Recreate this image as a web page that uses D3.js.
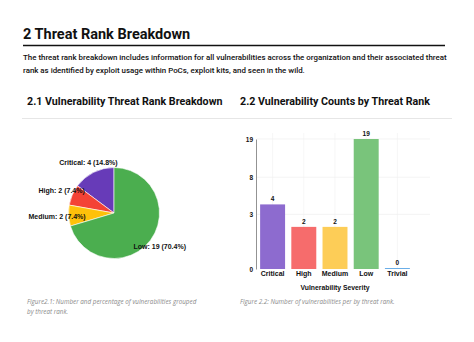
<!DOCTYPE html>
<html>
<head>
<meta charset="utf-8">
<script src="https://cdn.jsdelivr.net/npm/d3@7"></script>
<style>
  html, body { margin: 0; padding: 0; background: #fff; }
  svg { display: block; }
  .doc { font-family: Roboto, "Open Sans", sans-serif; fill: #111; }
  .chart { font-family: "Liberation Sans", Arial, sans-serif; font-weight: bold; fill: #111; }
  .caption { font-family: "Open Sans", sans-serif; font-style: italic; fill: #8a8a8a; }
</style>
</head>
<body>
<svg id="page" width="474" height="342"></svg>
<script>
// threat rank counts
const ranks = ["Critical", "High", "Medium", "Low", "Trivial"];
const counts = [4, 2, 2, 19, 0];
const pieRanks = ["Critical", "High", "Medium", "Low"];
const pieCounts = [4, 2, 2, 19];
const pieColors = ["#673bb8", "#f44236", "#fec10a", "#4bae4f"];
const barColors = ["#8d6bcf", "#f66c6c", "#fdcd57", "#79c47b", "#6aaee8"];
const yTicks = [0, 3, 8, 19];

const svg = d3.select("#page");

// header
svg.append("text").attr("class", "doc")
  .attr("x", 23).attr("y", 39)
  .attr("font-size", 14.5).attr("font-weight", 700)
  .text("2 Threat Rank Breakdown");
svg.append("line")
  .attr("x1", 23).attr("x2", 445).attr("y1", 45.5).attr("y2", 45.5)
  .attr("stroke", "#111").attr("stroke-width", 1.6);

const para = [
  "The threat rank breakdown includes information for all vulnerabilities across the organization and their associated threat",
  "rank as identified by exploit usage within PoCs, exploit kits, and seen in the wild."
];
svg.append("g").selectAll("text").data(para).join("text")
  .attr("class", "doc")
  .attr("x", 23).attr("y", (d, i) => 60 + i * 12.5)
  .attr("font-size", 7.9).attr("font-weight", 500)
  .text(d => d);

// section headings
const heads = [
  { x: 27, w: 213, t: "2.1 Vulnerability Threat Rank Breakdown" },
  { x: 240, w: 212, t: "2.2 Vulnerability Counts by Threat Rank" }
];
const hg = svg.append("g");
hg.selectAll("text").data(heads).join("text")
  .attr("class", "doc")
  .attr("x", d => d.x).attr("y", 105)
  .attr("font-size", 10.7).attr("font-weight", 700)
  .text(d => d.t);
hg.selectAll("line").data(heads).join("line")
  .attr("x1", d => d.x - 5).attr("x2", d => d.x + d.w)
  .attr("y1", 118.5).attr("y2", 118.5)
  .attr("stroke", "#e6e6e6").attr("stroke-width", 1);

// pie
const total = d3.sum(pieCounts);
const pieData = pieRanks.map((r, i) => ({ rank: r, value: pieCounts[i], color: pieColors[i] }));
const arcs = d3.pie().sort(null).value(d => d.value)
  .startAngle(0).endAngle(-2 * Math.PI)(pieData);
const radius = 45.5;
const arc = d3.arc().innerRadius(0).outerRadius(radius);
const labelArc = d3.arc().innerRadius(57).outerRadius(57);

const pg = svg.append("g").attr("transform", "translate(114,213)");
pg.selectAll("path").data(arcs).join("path")
  .attr("d", arc)
  .attr("fill", d => d.data.color)
  .attr("stroke", "#fff").attr("stroke-width", 0.6);
pg.selectAll("text").data(arcs).join("text")
  .attr("class", "chart")
  .attr("font-size", 7)
  .attr("text-anchor", "middle")
  .attr("dy", "0.35em")
  .attr("transform", d => {
    const [x, y] = labelArc.centroid(d);
    return `translate(${x},${y})`;
  })
  .text(d => `${d.data.rank}: ${d.data.value} (${(d.data.value / total * 100).toFixed(1)}%)`);

// bars
const x = d3.scaleBand().domain(ranks).range([257, 413]).paddingInner(0.2).paddingOuter(0.1);
const y = d3.scaleSymlog().constant(1.5).domain([0, 19]).range([269, 139]);

const bg = svg.append("g");
bg.append("g").selectAll("line").data(yTicks.slice(1)).join("line")
  .attr("x1", 257).attr("x2", 430)
  .attr("y1", d => y(d)).attr("y2", d => y(d))
  .attr("stroke", "#ececec").attr("stroke-width", 0.6);
bg.append("g").selectAll("line").data(ranks).join("line")
  .attr("x1", d => x(d) + x.bandwidth() / 2).attr("x2", d => x(d) + x.bandwidth() / 2)
  .attr("y1", 133).attr("y2", 269)
  .attr("stroke", "#f0f0f0").attr("stroke-width", 0.6);

const yAxis = bg.append("g").attr("transform", "translate(256,0)")
  .call(d3.axisLeft(y).tickValues(yTicks).tickSize(0).tickPadding(3).tickFormat(d3.format("d")));
yAxis.select(".domain").attr("stroke", "#777").attr("stroke-width", 0.8);
yAxis.selectAll("text").attr("class", "chart").attr("font-size", 6.5);

bg.selectAll("rect").data(counts).join("rect")
  .attr("x", (d, i) => x(ranks[i]))
  .attr("width", x.bandwidth())
  .attr("y", d => Math.min(y(d), 268))
  .attr("height", d => Math.max(269 - y(d), 1))
  .attr("fill", (d, i) => barColors[i]);

bg.append("g").selectAll("text").data(counts).join("text")
  .attr("class", "chart")
  .attr("font-size", 6.5).attr("text-anchor", "middle")
  .attr("x", (d, i) => x(ranks[i]) + x.bandwidth() / 2)
  .attr("y", d => Math.min(y(d), 268) - 3)
  .text(d => d);

const xAxis = bg.append("g").attr("transform", "translate(0,269)")
  .call(d3.axisBottom(x).tickSize(0).tickPadding(2));
xAxis.select(".domain").remove();
xAxis.selectAll("text").attr("class", "chart").attr("font-size", 7);

bg.append("text").attr("class", "chart")
  .attr("x", 335).attr("y", 290).attr("text-anchor", "middle")
  .attr("font-size", 6.8)
  .text("Vulnerability Severity");

// captions
const caps = [
  { x: 27, y: 304, t: "Figure2.1: Number and percentage of vulnerabilities grouped" },
  { x: 27, y: 313.5, t: "by threat rank." },
  { x: 240, y: 304, t: "Figure 2.2: Number of vulnerabilities per by threat rank." }
];
svg.append("g").selectAll("text").data(caps).join("text")
  .attr("class", "caption")
  .attr("x", d => d.x).attr("y", d => d.y)
  .attr("font-size", 6.3)
  .text(d => d.t);
</script>
</body>
</html>
